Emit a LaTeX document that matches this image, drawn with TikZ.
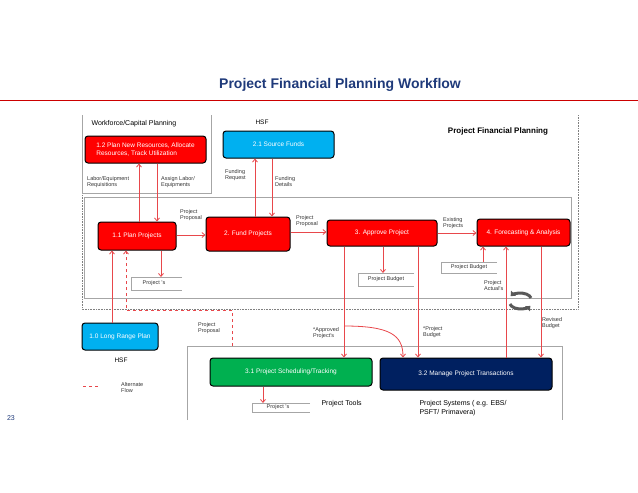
\documentclass[tikz,border=0pt]{standalone}
\usepackage{fontspec}
\setmainfont{Liberation Sans}
\usetikzlibrary{arrows.meta}
\definecolor{rd}{HTML}{FF0000}
\definecolor{ln}{HTML}{E8474B}
\definecolor{cy}{HTML}{00B0F0}
\definecolor{gr}{HTML}{00B050}
\definecolor{nv}{HTML}{002060}
\definecolor{tt}{HTML}{1F3A7A}
\tikzset{
 proc/.style={draw=black,line width=1pt,rounded corners=3pt,text=white,font=\fontsize{6.5}{7.5}\selectfont,align=left,inner sep=2pt},
 fl/.style={draw=ln,line width=0.8pt,-{Straight Barb[length=3pt,width=5pt]}},
 lab/.style={font=\fontsize{5.5}{6.3}\selectfont,align=left,text=black!80,inner sep=0pt},
 box/.style={draw=gray!70,line width=0.6pt},
}
\begin{document}
\begin{tikzpicture}[x=1pt,y=-1pt]
\useasboundingbox (0,0) rectangle (638,493);
\node[font=\bfseries\fontsize{14}{16}\selectfont,text=tt] (title) at (340,85) {Project Financial Planning Workflow};
\draw[draw=red!80!black,line width=1pt] (0,100) -- (638,100);
% frames
\draw[gray,densely dotted,line width=0.6pt] (82,115) -- (82,309) -- (578,309) -- (578,115);
\draw[box] (82,115) -- (82,193) -- (211,193) -- (211,115);
\draw[box] (84,197) rectangle (571,298);
\draw[box] (187,420) -- (187,346) -- (562,346) -- (562,420);
\node[anchor=west,font=\fontsize{7}{8}\selectfont] (wf) at (88,124) {Workforce/Capital Planning};
\node[font=\fontsize{6.5}{8}\selectfont] (hsf1) at (262,122) {HSF};
\node[font=\bfseries\fontsize{8}{9}\selectfont] (pfp) at (498,131) {Project Financial Planning};
% nodes
\node[proc,fill=rd,minimum width=121pt,minimum height=27pt] (n12) at (145.5,149.5) {1.2  Plan  New Resources, Allocate\\Resources, Track Utilization};
\node[proc,fill=cy,minimum width=111pt,minimum height=27pt] (n21) at (278.5,144.5) {2.1  Source  Funds};
\node[proc,fill=rd,minimum width=78pt,minimum height=28pt] (n11) at (137,236) {1.1  Plan  Projects};
\node[proc,fill=rd,minimum width=84pt,minimum height=34pt] (n2) at (248,234) {2. Fund Projects};
\node[proc,fill=rd,minimum width=110pt,minimum height=26pt] (n3) at (382,233) {3.  Approve Project};
\node[proc,fill=rd,minimum width=93pt,minimum height=27pt] (n4) at (523.5,232.5) {4. Forecasting \& Analysis};
\node[proc,fill=cy,minimum width=76pt,minimum height=27pt] (n10) at (120,336.5) {1.0  Long Range Plan};
\node[proc,fill=gr,minimum width=162pt,minimum height=28pt,align=center] (n31) at (291,372) {3.1 Project Scheduling/Tracking};
\node[proc,fill=nv,minimum width=172pt,minimum height=32pt,align=center] (n32) at (466,374) {3.2 Manage Project Transactions};
% data stores
\coordinate (d1) at (161,277);
\draw[box] (182,277) -- (131,277) -- (131,290) -- (182,290);
\node[lab] (d1t) at (154,283.5) {Project 's};
\coordinate (d2) at (383,273);
\draw[box] (414,273) -- (358,273) -- (358,286) -- (414,286);
\node[lab] (d2t) at (386,279.5) {Project Budget};
\coordinate (d3) at (483,262);
\draw[box] (497,262) -- (441,262) -- (441,273) -- (497,273);
\node[lab] (d3t) at (469,267.5) {Project Budget};
\coordinate (d4) at (263,403);
\draw[box] (310,403) -- (252,403) -- (252,412) -- (310,412);
\node[lab] (d4t) at (278,407.5) {Project 's};
% flows
\draw[fl] (n11.north -| 139,0) -- (n12.south -| 139,0);
\draw[fl] (n12.south -| 157,0) -- (n11.north -| 157,0);
\node[lab,anchor=north west] (l1) at (87,176) {Labor/Equipment\\Requisitions};
\node[lab,anchor=north west] (l2) at (161,176) {Assign Labor/\\Equipments};
\draw[fl] (n2.north -| 255,0) -- (n21.south -| 255,0);
\draw[fl] (n21.south -| 272,0) -- (n2.north -| 272,0);
\node[lab,anchor=north west] (l3) at (225,169) {Funding\\Request};
\node[lab,anchor=north west] (l4) at (275,176) {Funding\\Details};
\draw[fl] (n11.east |- 0,235) -- (n2.west |- 0,235);
\node[lab,anchor=north west] (l5) at (180,209) {Project\\Proposal};
\draw[fl] (n2.east |- 0,232) -- (n3.west |- 0,232);
\node[lab,anchor=north west] (l6) at (296,215) {Project\\Proposal};
\draw[fl] (n3.east |- 0,233) -- (n4.west |- 0,233);
\node[lab,anchor=north west] (l7) at (443,217) {Existing\\Projects};
\draw[fl] (n11.south -| 161,0) -- (d1);
\draw[fl] (n3.south -| 383,0) -- (d2);
\draw[fl] (d3) -- (n4.south -| 483,0);
\draw[fl] (n10.north -| 112,0) -- (n11.south -| 112,0);
\draw[fl,dashed] (232,346) -- (232,310) -- (126,310) -- (n11.south -| 126,0);
\node[lab,anchor=north west] (l8) at (198,322) {Project\\Proposal};
\node[font=\fontsize{6.5}{8}\selectfont] (hsf2) at (121,360) {HSF};
\draw[draw=ln,dashed,line width=0.8pt] (83,386) -- (98,386);
\node[lab,anchor=north west] (lg) at (121,382) {Alternate\\Flow};
\draw[fl] (n3.south -| 344,0) -- (n31.north -| 344,0);
\draw[fl] (344,326) .. controls (390,326) and (403,335) .. (n32.north -| 403,0);
\node[lab,anchor=north west] (l9) at (313,327) {*Approved\\Project's};
\draw[fl] (n3.south -| 418,0) -- (n32.north -| 418,0);
\node[lab,anchor=north west] (l10) at (423,326) {*Project\\Budget};
\draw[fl] (n4.south -| 541,0) -- (n32.north -| 541,0);
\node[lab,anchor=north west] (l11) at (542,317) {Revised\\Budget};
\draw[fl] (n32.north -| 506,0) -- (n4.south -| 506,0);
\node[lab,anchor=north west] (l12) at (484,280) {Project\\Actual's};
% cycle icon
\draw[gray!70!black,line width=3pt,-{Triangle[length=4pt,width=7pt]}] (510,304) arc (190:330:11pt and 6pt);
\draw[gray!70!black,line width=3pt,-{Triangle[length=4pt,width=7pt]}] (531,298) arc (10:150:11pt and 6pt);
\draw[fl] (n31.south -| 263,0) -- (d4);
\node[anchor=north west,font=\fontsize{7}{8}\selectfont] (pt) at (318,397) {Project Tools};
\node[anchor=north west,align=left,font=\fontsize{7}{8.5}\selectfont] (ps) at (416,397) {Project Systems ( e.g. EBS/\\PSFT/ Primavera)};
\node[text=tt,font=\fontsize{7}{8}\selectfont] (pg) at (11,418) {23};
\end{tikzpicture}
\end{document}
